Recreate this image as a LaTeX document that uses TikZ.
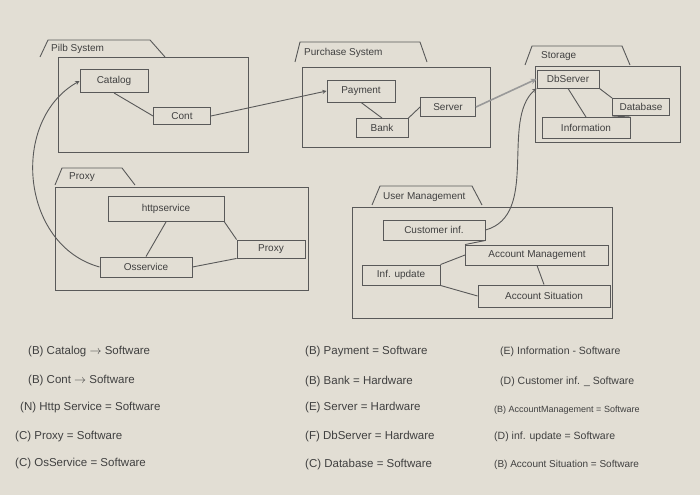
\documentclass[tikz,border=0pt]{standalone}
\usepackage{fontspec}
\setmainfont{Liberation Sans}
\begin{document}
\begin{tikzpicture}[x=1pt,y=-1pt,
  pencil/.style={draw=black!65,line width=0.9pt},
  box/.style={pencil,inner sep=0pt,font=\fontsize{10}{12}\selectfont,text=black!75},
  lbl/.style={font=\fontsize{10}{12}\selectfont,text=black!75,anchor=west,inner sep=1pt},
  note/.style={font=\fontsize{11.5}{13}\selectfont,text=black!75,anchor=west,inner sep=0pt},
  link/.style={pencil},
  arr/.style={pencil,->,>=stealth}]
\fill[fill={rgb,255:red,226;green,222;blue,212}] (0,0) rectangle (700,495);
\useasboundingbox (0,0) rectangle (700,495);
% folders
\draw[pencil] (40,57) -- (48,40) -- (150,40) -- (165,57);
\draw[pencil] (58,57) rectangle (248,152);
\node[lbl] (tpilb) at (50,49) {Pilb System};
\draw[pencil] (295,62) -- (300,42) -- (420,42) -- (427,62);
\draw[pencil] (302,67) rectangle (490,147);
\node[lbl] (tpur) at (303,53) {Purchase System};
\draw[pencil] (525,65) -- (532,46) -- (622,46) -- (630,65);
\draw[pencil] (535,66) rectangle (680,142);
\node[lbl] (tsto) at (540,56) {Storage};
\draw[pencil] (55,185) -- (62,168) -- (122,168) -- (135,185);
\draw[pencil] (55,187) rectangle (308,290);
\node[lbl] (tpro) at (68,177) {Proxy};
\draw[pencil] (372,205) -- (380,186) -- (472,186) -- (482,205);
\draw[pencil] (352,207) rectangle (612,318);
\node[lbl] (tusr) at (382,197) {User Management};
% nodes
\node[box,minimum width=68pt,minimum height=23pt] (catalog) at (114,81) {Catalog};
\node[box,minimum width=57pt,minimum height=17pt] (cont) at (182,116) {Cont};
\node[box,minimum width=68pt,minimum height=22pt] (payment) at (361,91) {Payment};
\node[box,minimum width=52pt,minimum height=19pt] (bank) at (382,128) {Bank};
\node[box,minimum width=55pt,minimum height=19pt] (server) at (448,107) {Server};
\node[box,minimum width=62pt,minimum height=18pt] (dbserver) at (568,79) {DbServer};
\node[box,minimum width=57pt,minimum height=17pt] (database) at (641,107) {Database};
\node[box,minimum width=88pt,minimum height=21pt] (information) at (586,128) {Information};
\node[box,minimum width=116pt,minimum height=25pt] (http) at (166,209) {httpservice};
\node[box,minimum width=68pt,minimum height=18pt] (proxy) at (271,249) {Proxy};
\node[box,minimum width=92pt,minimum height=20pt] (osservice) at (146,267) {Osservice};
\node[box,minimum width=102pt,minimum height=20pt] (customer) at (434,230) {Customer inf.};
\node[box,minimum width=143pt,minimum height=20pt] (accmgmt) at (537,255) {Account Management};
\node[box,minimum width=78pt,minimum height=20pt] (infupd) at (401,275) {Inf. update};
\node[box,minimum width=132pt,minimum height=22pt] (accsit) at (544,296) {Account Situation};
% connectors
\draw[link] (catalog.south) -- (cont.west);
\draw[arr] (cont.east) -- (payment.west);
\draw[link] (payment.south) -- (bank.north);
\draw[link] (bank.north east) -- (server.west);
\draw[arr,draw=black!40,line width=1.6pt] (server.east) -- (dbserver.west);
\draw[link] (dbserver.south east) -- (database.north west);
\draw[link] (dbserver.south) -- (information.north);
\draw[link] (database.south west) -- (information.north east);
\draw[link] (http.south) -- (osservice.north);
\draw[link] (http.south east) -- (proxy.north west);
\draw[link] (proxy.south west) -- (osservice.east);
\draw[arr] (osservice.west) .. controls (20,245) and (10,120) .. (catalog.west);
\draw[arr] (customer.east) .. controls (540,215) and (500,120) .. (dbserver.south west);
\draw[link] (customer.south east) -- (accmgmt.north west);
\draw[link] (infupd.north east) -- (accmgmt.west);
\draw[link] (infupd.south east) -- (accsit.west);
\draw[link] (accmgmt.south) -- (accsit.north);
% notes
\node[note] (n1) at (28,352) {(B) Catalog $\rightarrow$ Software};
\node[note] (n2) at (28,381) {(B) Cont $\rightarrow$ Software};
\node[note] (n3) at (20,408) {(N) Http Service = Software};
\node[note] (n4) at (15,437) {(C) Proxy = Software};
\node[note] (n5) at (15,464) {(C) OsService = Software};
\node[note] (n6) at (305,352) {(B) Payment = Software};
\node[note] (n7) at (305,382) {(B) Bank = Hardware};
\node[note] (n8) at (305,408) {(E) Server = Hardware};
\node[note] (n9) at (305,437) {(F) DbServer = Hardware};
\node[note] (n10) at (305,465) {(C) Database = Software};
\node[note,font=\fontsize{10.5}{12}\selectfont] (n11) at (500,352) {(E) Information - Software};
\node[note,font=\fontsize{10.5}{12}\selectfont] (n12) at (500,382) {(D) Customer inf. \_ Software};
\node[note,font=\fontsize{9}{11}\selectfont] (n13) at (494,410) {(B) AccountManagement = Software};
\node[note,font=\fontsize{10.5}{12}\selectfont] (n14) at (494,437) {(D) inf. update = Software};
\node[note,font=\fontsize{10}{12}\selectfont] (n15) at (494,465) {(B) Account Situation = Software};
\end{tikzpicture}
\end{document}
